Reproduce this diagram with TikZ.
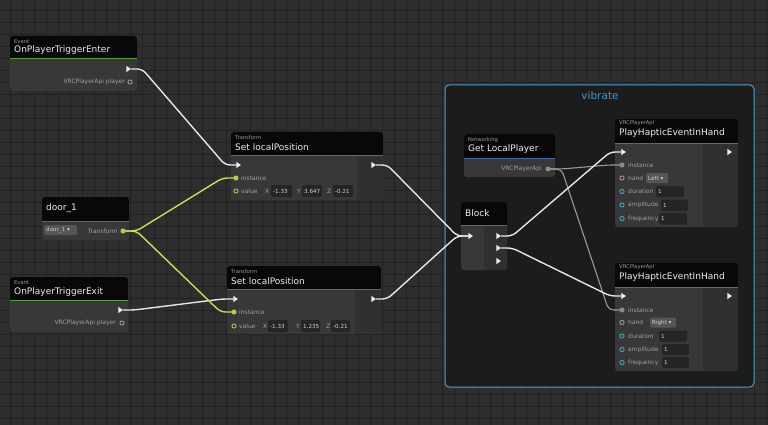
\documentclass[tikz,border=0pt]{standalone}
\usepackage{fontspec}
\setmainfont{DejaVu Sans}
\usetikzlibrary{shapes.geometric,calc}
\definecolor{bgc}{HTML}{2E2E2E}
\definecolor{gridc}{HTML}{222222}
\definecolor{bodyc}{HTML}{383838}
\definecolor{colc}{HTML}{303030}
\definecolor{hdrc}{HTML}{080808}
\definecolor{evline}{HTML}{5A9E3A}
\definecolor{blline}{HTML}{3E6E9E}
\definecolor{grpfill}{HTML}{1C1C1C}
\definecolor{grpline}{HTML}{4A9FD0}
\definecolor{grptext}{HTML}{3D98CF}
\definecolor{wirew}{HTML}{E6E6E6}
\definecolor{wireg}{HTML}{C3E05A}
\definecolor{wiregr}{HTML}{9A9A9A}
\definecolor{portg}{HTML}{A8D040}
\definecolor{portv}{HTML}{C0C860}
\definecolor{tealc}{HTML}{3FB5C5}
\definecolor{fieldc}{HTML}{252525}
\definecolor{dropc}{HTML}{555555}
\definecolor{lblc}{HTML}{A0A0A0}
\definecolor{catc}{HTML}{9A9A9A}
\definecolor{titc}{HTML}{EDEDED}
\definecolor{ftc}{HTML}{D0D0D0}
\definecolor{instc}{HTML}{8A8A8A}
\newcommand\udbox[6]{%
  \fill[bodyc, rounded corners=3] (#1,#2) rectangle (#3,#4);
  \fill[hdrc, rounded corners=3] (#1,#2) rectangle (#3,#5);
  \fill[hdrc] (#1,#5-4) rectangle (#3,#5);
  \fill[#6] (#1,#5) rectangle (#3,#5+1.2);}
\newcommand\udcol[6]{%
  \begin{scope}
  \clip[rounded corners=3] (#1,#2) rectangle (#3,#4);
  \fill[colc] (#5,#6) rectangle (#3,#4);
  \end{scope}}
\newcommand\wire[3]{\draw[#1] (#2) -- ++(11,0) -- ($(#3)+(-11,0)$) -- (#3);}
\begin{document}
\begin{tikzpicture}[x=1pt,y=-1pt,
  title/.style={anchor=west, inner sep=0, text=titc, font=\fontsize{9}{10}\selectfont},
  cat/.style={anchor=west, inner sep=0, text=catc, font=\fontsize{5.2}{6}\selectfont},
  lbl/.style={anchor=west, inner sep=0, text=lblc, font=\fontsize{6}{7}\selectfont},
  ftext/.style={anchor=west, inner sep=0, text=ftc, font=\fontsize{5.6}{6}\selectfont},
  field/.style={fill=fieldc, rounded corners=1.5},
  drop/.style={fill=dropc, rounded corners=1.5},
  flowport/.style={shape=isosceles triangle, isosceles triangle apex angle=70,
    fill=titc, inner sep=0, minimum width=4.5, minimum height=4.5},
  dport/.style={circle, inner sep=0, minimum size=4.2, line width=0.8},
  wirebase/.style={line width=1.4, rounded corners=5, line cap=round},
  whitewire/.style={wirebase, wirew},
  greenwire/.style={wirebase, wireg},
  greywire/.style={wirebase, line width=1.1, wiregr}]
\useasboundingbox (0,0) rectangle (768,425);
\fill[bgc] (0,0) rectangle (768,425);
\foreach \x in {10,22,...,766} \draw[gridc, line width=0.9] (\x,0) -- (\x,425);
\foreach \y in {10,22,...,424} \draw[gridc, line width=0.9] (0,\y) -- (768,\y);

% group
\draw[grpline, fill=grpfill, rounded corners=4, line width=1] (445,85) rectangle (754,387);
\node[text=grptext, font=\fontsize{10.5}{12}\selectfont, inner sep=0] (grpTitle) at (600,96) {vibrate};

% OnPlayerTriggerEnter
\udbox{10}{36}{137}{91}{58}{evline}
\node[cat] (enterCat) at (14,41.5) {Event};
\node[title] (enterTitle) at (14,50) {OnPlayerTriggerEnter};
\node[flowport] (enterOut) at (128,69) {};
\node[lbl, anchor=east] (enterPl) at (125,82) {VRCPlayerApi player};
\node[dport, draw=lblc, fill=bodyc] (enterPlP) at (130,82) {};

% door_1
\udbox{42}{197}{129}{240}{221}{blline}
\node[title] (doorTitle) at (46,208.5) {door\_1};
\fill[drop] (44,225) rectangle (77,235);
\node[ftext] (doorDrop) at (46,230) {door\_1 ▾};
\node[lbl, anchor=east] (doorLbl) at (118,231) {Transform};
\node[dport, draw=portg, fill=portg] (doorOut) at (123,231) {};

% OnPlayerTriggerExit
\udbox{10}{277}{128}{332}{300}{evline}
\node[cat] (exitCat) at (14,282.5) {Event};
\node[title] (exitTitle) at (14,292.5) {OnPlayerTriggerExit};
\node[flowport] (exitOut) at (120,310) {};
\node[lbl, anchor=east] (exitPl) at (116,323) {VRCPlayerApi player};
\node[dport, draw=lblc, fill=bodyc] (exitPlP) at (122,323) {};

% Set localPosition (top)
\udbox{231}{132}{383}{200}{155}{blline}
\udcol{231}{132}{383}{200}{357}{156.2}
\node[cat] (s1Cat) at (235,137.5) {Transform};
\node[title] (s1Title) at (235,147.5) {Set localPosition};
\node[flowport] (s1in) at (238,165) {};
\node[flowport] (s1out) at (373,165) {};
\node[dport, draw=portg, fill=portg] (s1inst) at (236,178) {};
\node[lbl] (s1instL) at (241,178) {instance};
\node[dport, draw=portv, fill=bodyc] (s1val) at (236,191) {};
\node[lbl] (s1valL) at (241,191) {value};
\node[lbl] (s1X) at (265,191) {X};
\fill[field] (271,185) rectangle (292,197);
\node[ftext] (s1Xv) at (273,191) {-1.33};
\node[lbl] (s1Y) at (297,191) {Y};
\fill[field] (302,185) rectangle (322,197);
\begin{scope}\clip (302,185) rectangle (321,197);
\node[ftext] (s1Yv) at (304,191) {3.647};
\end{scope}
\node[lbl] (s1Z) at (327,191) {Z};
\fill[field] (333,185) rectangle (353,197);
\node[ftext] (s1Zv) at (335,191) {-0.21};

% Set localPosition (bottom)
\udbox{227}{266}{381}{334}{289}{blline}
\udcol{227}{266}{381}{334}{355}{290.2}
\node[cat] (s2Cat) at (231,271.5) {Transform};
\node[title] (s2Title) at (231,281) {Set localPosition};
\node[flowport] (s2in) at (235,299) {};
\node[flowport] (s2out) at (373,299) {};
\node[dport, draw=portg, fill=portg] (s2inst) at (234,312) {};
\node[lbl] (s2instL) at (239,312) {instance};
\node[dport, draw=portv, fill=bodyc] (s2val) at (234,326) {};
\node[lbl] (s2valL) at (239,326) {value};
\node[lbl] (s2X) at (263,326) {X};
\fill[field] (268,320) rectangle (288,332);
\node[ftext] (s2Xv) at (270,326) {-1.33};
\node[lbl] (s2Y) at (296,326) {Y};
\fill[field] (301,320) rectangle (320,332);
\begin{scope}\clip (301,320) rectangle (319,332);
\node[ftext] (s2Yv) at (303,326) {1.235};
\end{scope}
\node[lbl] (s2Z) at (326,326) {Z};
\fill[field] (331,320) rectangle (350,332);
\node[ftext] (s2Zv) at (333,326) {-0.21};

% Get LocalPlayer
\udbox{464}{134}{555}{177}{158}{blline}
\node[cat] (glpCat) at (468,140) {Networking};
\node[title] (glpTitle) at (468,149.5) {Get LocalPlayer};
\node[lbl, anchor=east] (glpLbl) at (542,169) {VRCPlayerApi};
\node[dport, draw=instc, fill=instc] (glpOut) at (548,169) {};

% Block
\udbox{461}{202}{507}{270}{225}{blline}
\udcol{461}{202}{507}{270}{484}{226.2}
\node[title] (blkTitle) at (465,213) {Block};
\node[flowport] (blkIn) at (470,236) {};
\node[flowport] (blkO1) at (498,236) {};
\node[flowport] (blkO2) at (498,248) {};
\node[flowport] (blkO3) at (498,261) {};

% PlayHapticEventInHand (top)
\udbox{615}{119}{738}{227}{143}{blline}
\udcol{615}{119}{738}{227}{703}{144.2}
\node[cat] (h1Cat) at (619,123.5) {VRCPlayerApi};
\node[title] (h1Title) at (619,133) {PlayHapticEventInHand};
\node[flowport] (h1in) at (623,152) {};
\node[flowport] (h1out) at (729,152) {};
\node[dport, draw=instc, fill=instc] (h1inst) at (622,165) {};
\node[lbl] (h1instL) at (628,165) {instance};
\node[dport, draw=lblc, fill=bodyc] (h1hand) at (622,178) {};
\node[lbl] (h1handL) at (628,178) {hand};
\fill[drop] (646,173) rectangle (668,183);
\node[ftext] (h1handV) at (648,178) {Left ▾};
\node[dport, draw=tealc, fill=bodyc] (h1dur) at (622,191.5) {};
\node[lbl] (h1durL) at (628,191.5) {duration};
\fill[field] (656,186) rectangle (684,197);
\node[ftext] (h1durV) at (658,191.5) {1};
\node[dport, draw=tealc, fill=bodyc] (h1amp) at (622,205) {};
\node[lbl] (h1ampL) at (628,205) {amplitude};
\fill[field] (661,199.5) rectangle (688,211);
\node[ftext] (h1ampV) at (663,205) {1};
\node[dport, draw=tealc, fill=bodyc] (h1frq) at (622,218.5) {};
\node[lbl] (h1frqL) at (628,218.5) {frequency};
\fill[field] (659,213) rectangle (687,224.5);
\node[ftext] (h1frqV) at (661,218.5) {1};

% PlayHapticEventInHand (bottom)
\udbox{615}{263}{738}{371}{287}{blline}
\udcol{615}{263}{738}{371}{703}{288.2}
\node[cat] (h2Cat) at (619,267.5) {VRCPlayerApi};
\node[title] (h2Title) at (619,277) {PlayHapticEventInHand};
\node[flowport] (h2in) at (623,296) {};
\node[flowport] (h2out) at (729,296) {};
\node[dport, draw=instc, fill=instc] (h2inst) at (622,310) {};
\node[lbl] (h2instL) at (628,310) {instance};
\node[dport, draw=lblc, fill=bodyc] (h2hand) at (622,322.5) {};
\node[lbl] (h2handL) at (628,322.5) {hand};
\fill[drop] (650,317.5) rectangle (676,327.5);
\node[ftext] (h2handV) at (652,322.5) {Right ▾};
\node[dport, draw=tealc, fill=bodyc] (h2dur) at (622,336) {};
\node[lbl] (h2durL) at (628,336) {duration};
\fill[field] (659,330.5) rectangle (687,341.5);
\node[ftext] (h2durV) at (661,336) {1};
\node[dport, draw=tealc, fill=bodyc] (h2amp) at (622,349.5) {};
\node[lbl] (h2ampL) at (628,349.5) {amplitude};
\fill[field] (662,344) rectangle (689,355);
\node[ftext] (h2ampV) at (664,349.5) {1};
\node[dport, draw=tealc, fill=bodyc] (h2frq) at (622,362.5) {};
\node[lbl] (h2frqL) at (628,362.5) {frequency};
\fill[field] (662,357) rectangle (689,368);
\node[ftext] (h2frqV) at (664,362.5) {1};

% wires
\wire{whitewire}{enterOut.east}{s1in.west}
\wire{whitewire}{exitOut.east}{s2in.west}
\wire{greenwire}{doorOut.east}{s1inst.west}
\wire{greenwire}{doorOut.east}{s2inst.west}
\wire{whitewire}{s1out.east}{blkIn.west}
\wire{whitewire}{s2out.east}{blkIn.west}
\wire{greywire}{glpOut.east}{h1inst.west}
\wire{greywire}{glpOut.east}{h2inst.west}
\wire{whitewire}{blkO1.east}{h1in.west}
\wire{whitewire}{blkO2.east}{h2in.west}
\end{tikzpicture}
\end{document}
